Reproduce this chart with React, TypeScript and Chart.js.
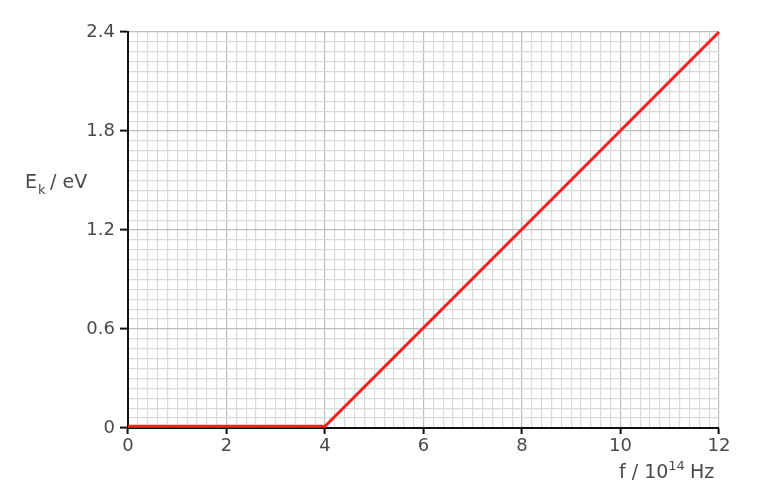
import { useEffect, useRef } from "react";
import Chart from "chart.js/auto";

// photoelectric effect: kinetic energy vs frequency
const freq = [0, 4, 12]; // 10^14 Hz
const energy = [0.01, 0.01, 2.4]; // eV

const xMin = 0;
const xMax = 12;
const xMinor = 0.2;
const xMajor = 2;
const yMin = 0;
const yMax = 2.4;
const yMinor = 0.06;
const yMajor = 0.6;

const FONT = "'DejaVu Sans', sans-serif";
const TEXT = "#4a4a4a";

const isMajor = (v: number, step: number) => Math.abs(v / step - Math.round(v / step)) < 1e-6;

const fmt = (v: number) => String(Math.round(v * 100) / 100);

const axisTitles = {
  id: "axisTitles",
  afterDraw(chart: any) {
    const ctx = chart.ctx;
    ctx.save();
    ctx.fillStyle = TEXT;
    ctx.textBaseline = "alphabetic";
    ctx.textAlign = "left";
    // y title: E_k / eV
    ctx.font = `19px ${FONT}`;
    ctx.fillText("E", 25, 188);
    ctx.font = `13px ${FONT}`;
    ctx.fillText("k", 38, 194);
    ctx.font = `19px ${FONT}`;
    ctx.fillText("/ eV", 50, 188);
    // x title: f / 10^14 Hz
    ctx.font = `19px ${FONT}`;
    ctx.fillText("f / 10", 619, 478);
    const w = ctx.measureText("f / 10").width;
    ctx.font = `13px ${FONT}`;
    ctx.fillText("14", 619 + w, 470);
    const w2 = ctx.measureText("14").width;
    ctx.font = `19px ${FONT}`;
    ctx.fillText("Hz", 619 + w + w2 + 5, 478);
    ctx.restore();
  },
};

export default function App() {
  const canvasRef = useRef<HTMLCanvasElement>(null);
  const chartRef = useRef<any>(null);

  useEffect(() => {
    if (!canvasRef.current) return;
    const ctx = canvasRef.current.getContext("2d");
    if (!ctx) return;

    if (chartRef.current) chartRef.current.destroy();

    chartRef.current = new Chart(ctx, {
      type: "line",
      data: {
        datasets: [
          {
            data: freq.map((f, i) => ({ x: f, y: energy[i] })),
            borderColor: "#ff1c1c",
            borderWidth: 3,
            pointRadius: 0,
            tension: 0,
            clip: false as any,
          },
        ],
      },
      plugins: [axisTitles],
      options: {
        responsive: false,
        animation: false,
        layout: { padding: { left: 0, right: 49, top: 32, bottom: 0 } },
        plugins: {
          legend: { display: false },
          tooltip: { enabled: false },
        },
        scales: {
          x: {
            type: "linear",
            min: xMin,
            max: xMax,
            afterFit: (s: any) => {
              s.height = 64;
            },
            border: { display: true, color: "#111", width: 2 },
            grid: {
              color: (c: any) => (isMajor(c.tick.value, xMajor) ? "#bdbdbd" : "#d9d9d9"),
              lineWidth: 1.2,
              tickLength: 6,
              tickColor: (c: any) => (isMajor(c.tick.value, xMajor) ? "#111" : "rgba(0,0,0,0)"),
              tickWidth: 2,
            },
            ticks: {
              stepSize: xMinor,
              autoSkip: false,
              maxRotation: 0,
              padding: 2,
              color: TEXT,
              font: { family: FONT, size: 18 },
              callback: (v: any) => (isMajor(Number(v), xMajor) ? fmt(Number(v)) : ""),
            },
          },
          y: {
            type: "linear",
            min: yMin,
            max: yMax,
            afterFit: (s: any) => {
              s.width = 128;
            },
            border: { display: true, color: "#111", width: 2 },
            grid: {
              color: (c: any) => (isMajor(c.tick.value, yMajor) ? "#bdbdbd" : "#d9d9d9"),
              lineWidth: 1.2,
              tickLength: 8,
              tickColor: (c: any) => (isMajor(c.tick.value, yMajor) ? "#111" : "rgba(0,0,0,0)"),
              tickWidth: 2,
            },
            ticks: {
              stepSize: yMinor,
              autoSkip: false,
              padding: 5,
              color: TEXT,
              font: { family: FONT, size: 18 },
              callback: (v: any) => (isMajor(Number(v), yMajor) ? fmt(Number(v)) : ""),
            },
          },
        },
      },
    });

    return () => chartRef.current?.destroy();
  }, []);

  return (
    <div style={{ position: "fixed", left: 0, top: 0, width: 768, height: 492, background: "#fff" }}>
      <canvas ref={canvasRef} width={768} height={492} style={{ width: 768, height: 492 }} />
    </div>
  );
}
